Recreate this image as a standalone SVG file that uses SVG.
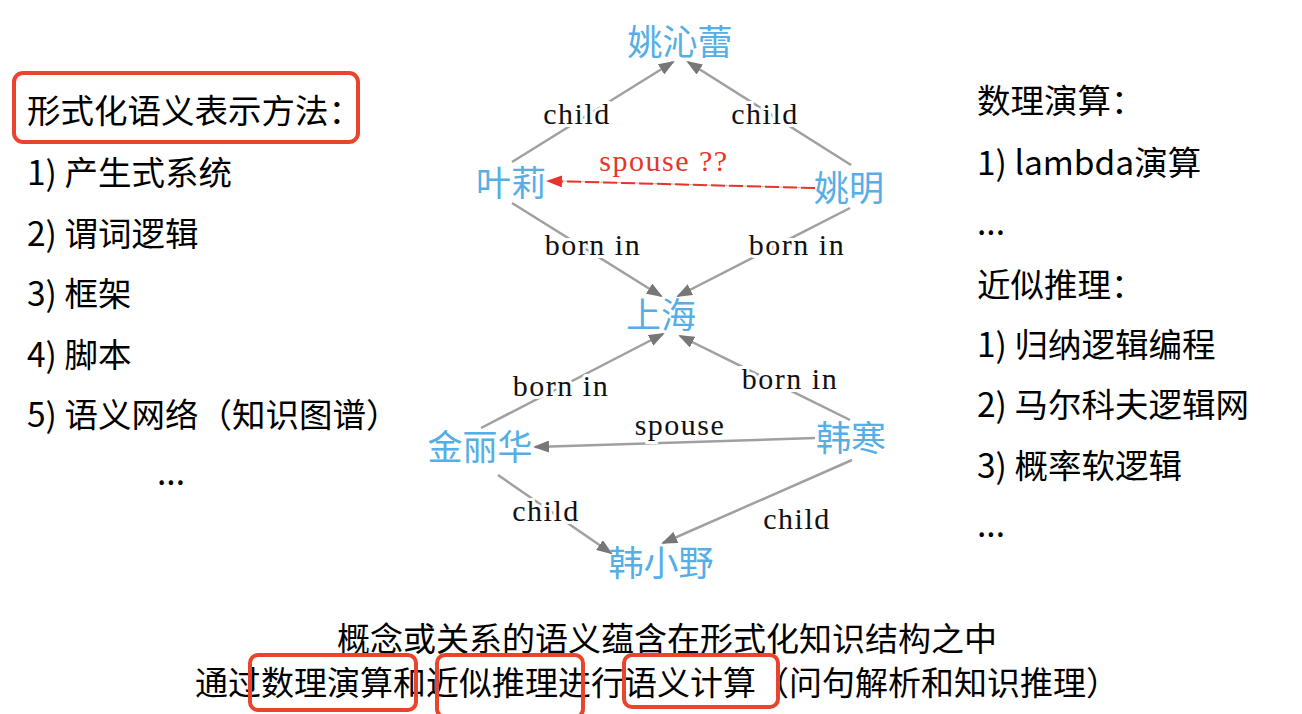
<svg xmlns="http://www.w3.org/2000/svg" width="1302" height="714" viewBox="0 0 1302 714">
<style>
.t{font-family:"Noto Sans CJK SC","Microsoft YaHei",sans-serif;font-size:33.5px;fill:#000}
.b{font-family:"Noto Sans CJK SC",sans-serif;font-size:33px;fill:#000}
.n{font-family:"Noto Sans CJK SC",serif;font-size:35px;fill:#55aee6;text-anchor:middle}
.l{font-family:"Liberation Serif",serif;font-size:30px;letter-spacing:1.5px;fill:#111;text-anchor:middle;stroke:#fff;stroke-width:6px;paint-order:stroke}
.e{stroke:#a0a0a0;stroke-width:2.5;fill:none;marker-end:url(#ag)}
.box{fill:none;stroke:#e9452c;stroke-width:4}
</style>
<defs>
<marker id="ag" markerWidth="16" markerHeight="12" refX="14" refY="6" orient="auto" markerUnits="userSpaceOnUse"><path d="M0,0 L16,6 L0,12 z" fill="#777"/></marker>
<marker id="ar" markerWidth="16" markerHeight="12" refX="14" refY="6" orient="auto" markerUnits="userSpaceOnUse"><path d="M0,0 L16,6 L0,12 z" fill="#e8352a"/></marker>
</defs>
<rect width="1302" height="714" fill="#fff"/>

<g id="left-list">
<rect class="box" x="14" y="73" width="344" height="69" rx="9"/>
<text class="t" x="27" y="123">形式化语义表示方法：</text>
<text class="t" x="27" y="185">1) 产生式系统</text>
<text class="t" x="27" y="246">2) 谓词逻辑</text>
<text class="t" x="27" y="306">3) 框架</text>
<text class="t" x="27" y="367">4) 脚本</text>
<text class="t" x="27" y="427">5) 语义网络（知识图谱）</text>
<text class="t" x="157" y="485">...</text>
</g>

<g id="right-list">
<text class="t" x="977" y="113">数理演算：</text>
<text class="t" x="977" y="175">1) lambda演算</text>
<text class="t" x="977" y="235">...</text>
<text class="t" x="977" y="297">近似推理：</text>
<text class="t" x="977" y="357">1) 归纳逻辑编程</text>
<text class="t" x="977" y="417">2) 马尔科夫逻辑网</text>
<text class="t" x="977" y="478">3) 概率软逻辑</text>
<text class="t" x="977" y="537">...</text>
</g>

<g id="connectors">
<line class="e" x1="512" y1="162" x2="673" y2="62"/>
<line class="e" x1="851" y1="165" x2="688" y2="62"/>
<line x1="815" y1="188" x2="560" y2="181" stroke="#bbb" stroke-width="1"/>
<line x1="815" y1="188" x2="548" y2="181" stroke="#e8352a" stroke-width="2" stroke-dasharray="14 4" marker-end="url(#ar)"/>
<line class="e" x1="512" y1="203" x2="661" y2="296"/>
<line class="e" x1="850" y1="208" x2="678" y2="296"/>
<line class="e" x1="481" y1="428" x2="663" y2="334"/>
<line class="e" x1="850" y1="420" x2="680" y2="336"/>
<line class="e" x1="815" y1="438" x2="535" y2="447"/>
<line class="e" x1="498" y1="475" x2="611" y2="553"/>
<line class="e" x1="852" y1="460" x2="663" y2="543"/>
<text class="l" x="577" y="124">child</text>
<text class="l" x="765" y="124">child</text>
<text class="l" x="664" y="171" style="fill:#e8352a">spouse ??</text>
<text class="l" x="593" y="255">born in</text>
<text class="l" x="797" y="255">born in</text>
<text class="l" x="561" y="396">born in</text>
<text class="l" x="790" y="389">born in</text>
<text class="l" x="680" y="435">spouse</text>
<text class="l" x="546" y="521">child</text>
<text class="l" x="797" y="529">child</text>
</g>

<g id="n-yaoqinlei"><text class="n" x="680" y="55">姚沁蕾</text></g>
<g id="n-yeli"><text class="n" x="511" y="196">叶莉</text></g>
<g id="n-yaoming"><text class="n" x="849" y="201">姚明</text></g>
<g id="n-shanghai"><text class="n" x="661" y="328">上海</text></g>
<g id="n-jinlihua"><text class="n" x="480" y="460">金丽华</text></g>
<g id="n-hanhan"><text class="n" x="851" y="451">韩寒</text></g>
<g id="n-hanxiaoye"><text class="n" x="661" y="576">韩小野</text></g>

<g id="bottom">
<text class="b" x="667" y="651" text-anchor="middle">概念或关系的语义蕴含在形式化知识结构之中</text>
<text class="b" x="657" y="695" text-anchor="middle">通过数理演算和近似推理进行语义计算（问句解析和知识推理）</text>
<rect class="box" x="250" y="655" width="166" height="55" rx="8"/>
<rect class="box" x="437" y="655" width="146" height="62" rx="8"/>
<rect class="box" x="624" y="655" width="154" height="52" rx="8"/>
</g>
</svg>
